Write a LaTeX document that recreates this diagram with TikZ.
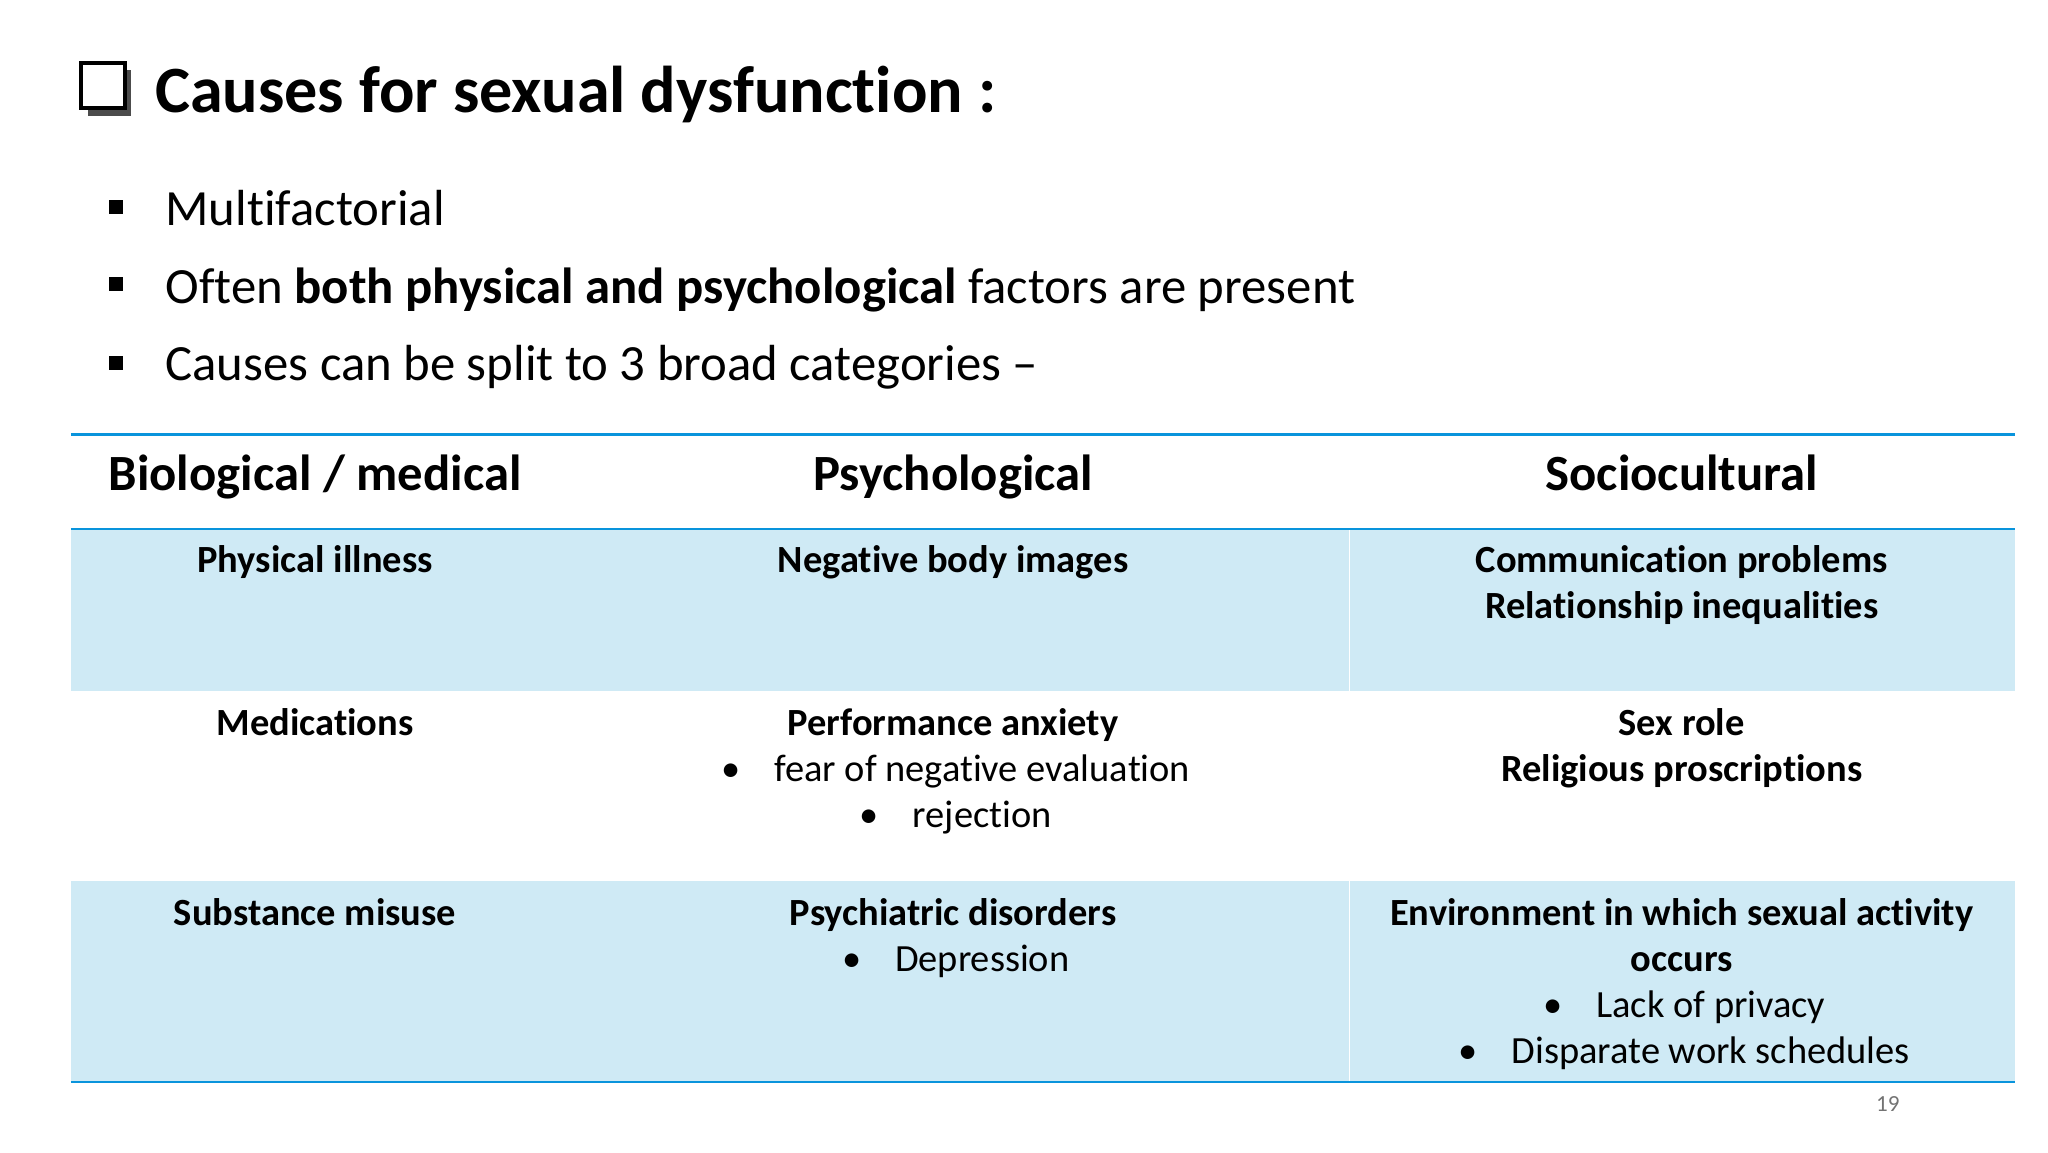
\documentclass[tikz,border=0pt]{standalone}
\usepackage{fontspec}
\setmainfont{Carlito}[Ligatures=NoCommon]
\begin{document}
\begin{tikzpicture}[x=0.03cm,y=-0.03cm,
  cell/.style={font=\fontsize{25}{28}\selectfont\bfseries,anchor=base},
  celln/.style={font=\fontsize{25}{28}\selectfont,anchor=base},
  head/.style={font=\fontsize{33}{36}\selectfont\bfseries,anchor=base},
  body/.style={font=\fontsize{33}{36}\selectfont,anchor=base west},
  rule/.style={draw=cyan!80!blue,line width=1.4pt}]
\useasboundingbox (0,0) rectangle (1560,878);
\definecolor{rowblue}{RGB}{207,234,245}
% title
\fill[black!70] (67,53) rectangle (100,88);
\draw[line width=2.6pt,fill=white] (62,48) rectangle (95,82);
\node[font=\fontsize{43}{46}\selectfont\bfseries,anchor=base west] (title) at (114,86) {Causes for sexual dysfunction :};
% bullets
\foreach \yy in {158,217,277}{\fill (83,\yy-6) rectangle (94,\yy+5);}
\node[body] (t1) at (122,172) {Multifactorial};
\node[body] (t2) at (122,231) {Often \textbf{both physical and psychological} factors are present};
\node[body] (t3) at (122,290) {Causes can be split to 3 broad categories --};
% table
\fill[rowblue] (54,403) rectangle (1535,526);
\fill[rowblue] (54,671) rectangle (1535,824);
\draw[white,line width=0.8pt] (1028,403) -- (1028,526) (1028,671) -- (1028,824);
\draw[rule] (54,331) -- (1535,331);
\draw[rule] (54,403) -- (1535,403);
\draw[rule] (54,824) -- (1535,824);
\node[head] (h1) at (240,374) {Biological / medical};
\node[head] (h2) at (726,374) {Psychological};
\node[head] (h3) at (1281,374) {Sociocultural};
% row 1
\node[cell] (a1) at (240,436) {Physical illness};
\node[cell] (b1) at (726,436) {Negative body images};
\node[cell] (c1) at (1281,436) {Communication problems};
\node[cell] (c1b) at (1281,471) {Relationship inequalities};
% row 2
\node[cell] (a2) at (240,560) {Medications};
\node[cell] (b2) at (726,560) {Performance anxiety};
\node[celln] (b2b) at (728,595) {•\hspace{22pt}fear of negative evaluation};
\node[celln] (b2c) at (728,630) {•\hspace{22pt}rejection};
\node[cell] (c2) at (1281,560) {Sex role};
\node[cell] (c2b) at (1281,595) {Religious proscriptions};
% row 3
\node[cell] (a3) at (240,705) {Substance misuse};
\node[cell] (b3) at (726,705) {Psychiatric disorders};
\node[celln] (b3b) at (728,740) {•\hspace{22pt}Depression};
\node[cell] (c3) at (1281,705) {Environment in which sexual activity};
\node[cell] (c3b) at (1281,740) {occurs};
\node[celln] (c3c) at (1283,775) {•\hspace{22pt}Lack of privacy};
\node[celln] (c3d) at (1283,810) {•\hspace{22pt}Disparate work schedules};
\node[font=\fontsize{15}{17}\selectfont,text=black!55,anchor=base] (pg) at (1438,847) {19};
\end{tikzpicture}
\end{document}
